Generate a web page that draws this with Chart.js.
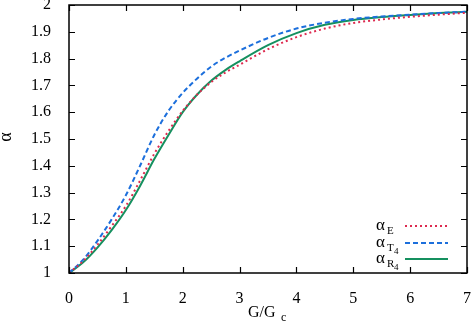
<!DOCTYPE html>
<html>
<head>
<meta charset="utf-8">
<script src="https://cdn.jsdelivr.net/npm/chart.js@4/dist/chart.umd.min.js"></script>
<style>
  html, body { margin: 0; padding: 0; background: #fff; }
  #wrap { width: 474px; height: 322px; }
</style>
</head>
<body>
<div id="wrap"><canvas id="chart" width="474" height="322"></canvas></div>
<script>
// G/Gc sample points
const gRatio = [0, 0.25, 0.5, 0.75, 1, 1.25, 1.5, 1.75, 2, 2.25, 2.5, 2.75, 3, 3.5, 4, 4.5, 5, 5.5, 6, 6.5, 7]

// alpha values
const alphaE  = [1.0, 1.045, 1.105, 1.175, 1.25, 1.345, 1.445, 1.53, 1.605, 1.665, 1.712, 1.748, 1.777, 1.835, 1.88, 1.912, 1.933, 1.946, 1.956, 1.964, 1.971]
const alphaT4 = [1.0, 1.05, 1.12, 1.20, 1.29, 1.40, 1.515, 1.605, 1.672, 1.725, 1.77, 1.803, 1.83, 1.877, 1.912, 1.934, 1.948, 1.957, 1.964, 1.970, 1.975]
const alphaR4 = [1.0, 1.04, 1.095, 1.16, 1.235, 1.325, 1.425, 1.515, 1.60, 1.665, 1.717, 1.757, 1.79, 1.85, 1.895, 1.926, 1.944, 1.955, 1.963, 1.970, 1.975]

const xTicks = [0, 1, 2, 3, 4, 5, 6, 7]
const yTicks = [1, 1.1, 1.2, 1.3, 1.4, 1.5, 1.6, 1.7, 1.8, 1.9, 2]

const legendNames = [['α', 'E'], ['α', 'T', '4'], ['α', 'R', '4']]

const SERIF = '"Liberation Serif", "DejaVu Serif", serif'

function pts(ys){ return gRatio.map((g, i) => ({x: g, y: ys[i]})) }

const series = [
  {data: pts(alphaE),  borderColor: '#dd2a4f', borderDash: [2, 3], borderWidth: 2},
  {data: pts(alphaT4), borderColor: '#1c6fdc', borderDash: [5, 3], borderWidth: 2},
  {data: pts(alphaR4), borderColor: '#15905f', borderDash: [],     borderWidth: 2}
]

// frame, inward ticks, axis titles, legend
const decor = {
  id: 'decor',
  afterDraw(chart){
    const {ctx, chartArea: a, scales: {x, y}} = chart
    ctx.save()
    ctx.strokeStyle = '#000'
    ctx.lineWidth = 1.5
    ctx.strokeRect(a.left, a.top, a.right - a.left, a.bottom - a.top)
    ctx.lineWidth = 1.2
    ctx.beginPath()
    xTicks.forEach(v => {
      const px = Math.round(x.getPixelForValue(v)) + 0.5
      ctx.moveTo(px, a.bottom); ctx.lineTo(px, a.bottom - 6)
      ctx.moveTo(px, a.top); ctx.lineTo(px, a.top + 6)
    })
    yTicks.forEach(v => {
      const py = Math.round(y.getPixelForValue(v)) + 0.5
      ctx.moveTo(a.left, py); ctx.lineTo(a.left + 6, py)
      ctx.moveTo(a.right, py); ctx.lineTo(a.right - 6, py)
    })
    ctx.stroke()

    ctx.fillStyle = '#000'
    ctx.textBaseline = 'alphabetic'
    // x title G/Gc
    ctx.font = '16px ' + SERIF
    ctx.textAlign = 'left'
    ctx.fillText('G/G', 248, 317)
    ctx.font = '12px ' + SERIF
    ctx.fillText('c', 281, 321)
    // y title
    ctx.translate(11, 137)
    ctx.rotate(-Math.PI / 2)
    ctx.font = '18px ' + SERIF
    ctx.textAlign = 'center'
    ctx.fillText('α', 0, 0)
    ctx.setTransform(1, 0, 0, 1, 0, 0)

    // legend
    const rowY = [226, 243, 259]
    series.forEach((s, i) => {
      const yy = rowY[i]
      ctx.strokeStyle = s.borderColor
      ctx.lineWidth = s.borderWidth
      ctx.setLineDash(s.borderDash)
      ctx.beginPath(); ctx.moveTo(405, yy); ctx.lineTo(448, yy); ctx.stroke()
      ctx.setLineDash([])
      const nm = legendNames[i]
      ctx.textAlign = 'left'
      ctx.font = '17px ' + SERIF
      ctx.fillText(nm[0], 376, yy + 4)
      ctx.font = '11px ' + SERIF
      ctx.fillText(nm[1], 387, yy + 8)
      if (nm[2]) {
        ctx.font = '9px ' + SERIF
        ctx.fillText(nm[2], 394, yy + 11)
      }
    })
    ctx.restore()
  }
}

new Chart(document.getElementById('chart'), {
  type: 'scatter',
  data: {
    datasets: series.map(s => ({
      data: s.data, showLine: true, fill: false, cubicInterpolationMode: 'monotone',
      borderColor: s.borderColor, borderDash: s.borderDash, borderWidth: s.borderWidth,
      pointRadius: 0, pointHoverRadius: 0
    }))
  },
  options: {
    responsive: false,
    animation: false,
    layout: {padding: {top: 5, right: 7, left: 0, bottom: 0}},
    plugins: {legend: {display: false}, tooltip: {enabled: false}},
    scales: {
      x: {
        type: 'linear', min: 0, max: 7,
        afterBuildTicks: s => { s.ticks = xTicks.map(v => ({value: v})) },
        afterFit: s => { s.height = 49; s.paddingLeft = 0; s.paddingRight = 0 },
        grid: {display: false},
        border: {display: false},
        ticks: {color: '#000', font: {family: SERIF, size: 16}, padding: 8, callback: v => String(v)}
      },
      y: {
        min: 1, max: 2,
        afterBuildTicks: s => { s.ticks = yTicks.map(v => ({value: v})) },
        afterFit: s => { s.width = 69; s.paddingTop = 0; s.paddingBottom = 0 },
        grid: {display: false},
        border: {display: false},
        ticks: {color: '#000', font: {family: SERIF, size: 16}, padding: 10, callback: v => String(Number(v.toFixed(1)))}
      }
    }
  },
  plugins: [decor]
})
</script>
</body>
</html>
